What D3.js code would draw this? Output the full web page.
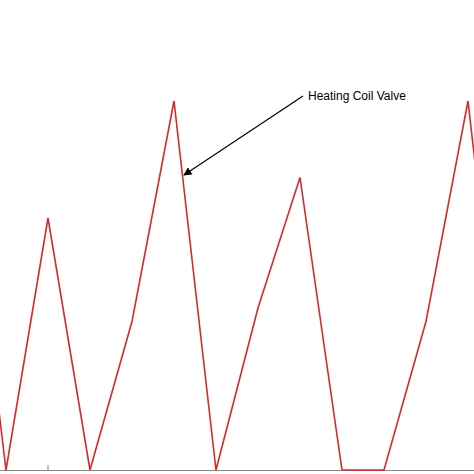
<!DOCTYPE html><html><head><meta charset="utf-8"><script src="https://cdn.jsdelivr.net/npm/d3@7"></script>
<style>body{margin:0;background:#fff}</style></head><body><svg id="c" width="474" height="474"></svg><script>
const steps=[-1,0,1,2,3,4,5,6,7,8,9,10,11,12];
const valve=[78,0,56,0,33,82,0,36,65,0,0,33,82,0];
const tickSteps=[1];
const svg=d3.select("#c");
const x=d3.scaleLinear().domain([0,1]).range([6,48]);
const y=d3.scaleLinear().domain([0,100]).range([470,20]);
svg.append("line").attr("x1",0).attr("x2",474).attr("y1",470.5).attr("y2",470.5).attr("stroke","#888").attr("stroke-width",1.2);
tickSteps.forEach(t=>svg.append("line").attr("x1",x(t)).attr("x2",x(t)).attr("y1",470).attr("y2",465).attr("stroke","#888"));
svg.append("path").datum(steps.map((s,i)=>[s,valve[i]])).attr("fill","none").attr("stroke","#d42a2a").attr("stroke-width",1.6)
 .attr("d",d3.line().x(d=>x(d[0])).y(d=>y(d[1])));
svg.append("defs").append("marker").attr("id","ah").attr("viewBox","0 0 10 10").attr("refX",9).attr("refY",5).attr("markerWidth",7).attr("markerHeight",7).attr("orient","auto")
 .append("path").attr("d","M0,0L10,5L0,10z").attr("fill","#000");
svg.append("line").attr("x1",303).attr("y1",96).attr("x2",184).attr("y2",175).attr("stroke","#000").attr("stroke-width",1.2).attr("marker-end","url(#ah)");
svg.append("text").attr("x",308).attr("y",100).attr("font-family","Liberation Sans, Arial").attr("font-size",12).attr("fill","#000").text("Heating Coil Valve");
</script></body></html>
